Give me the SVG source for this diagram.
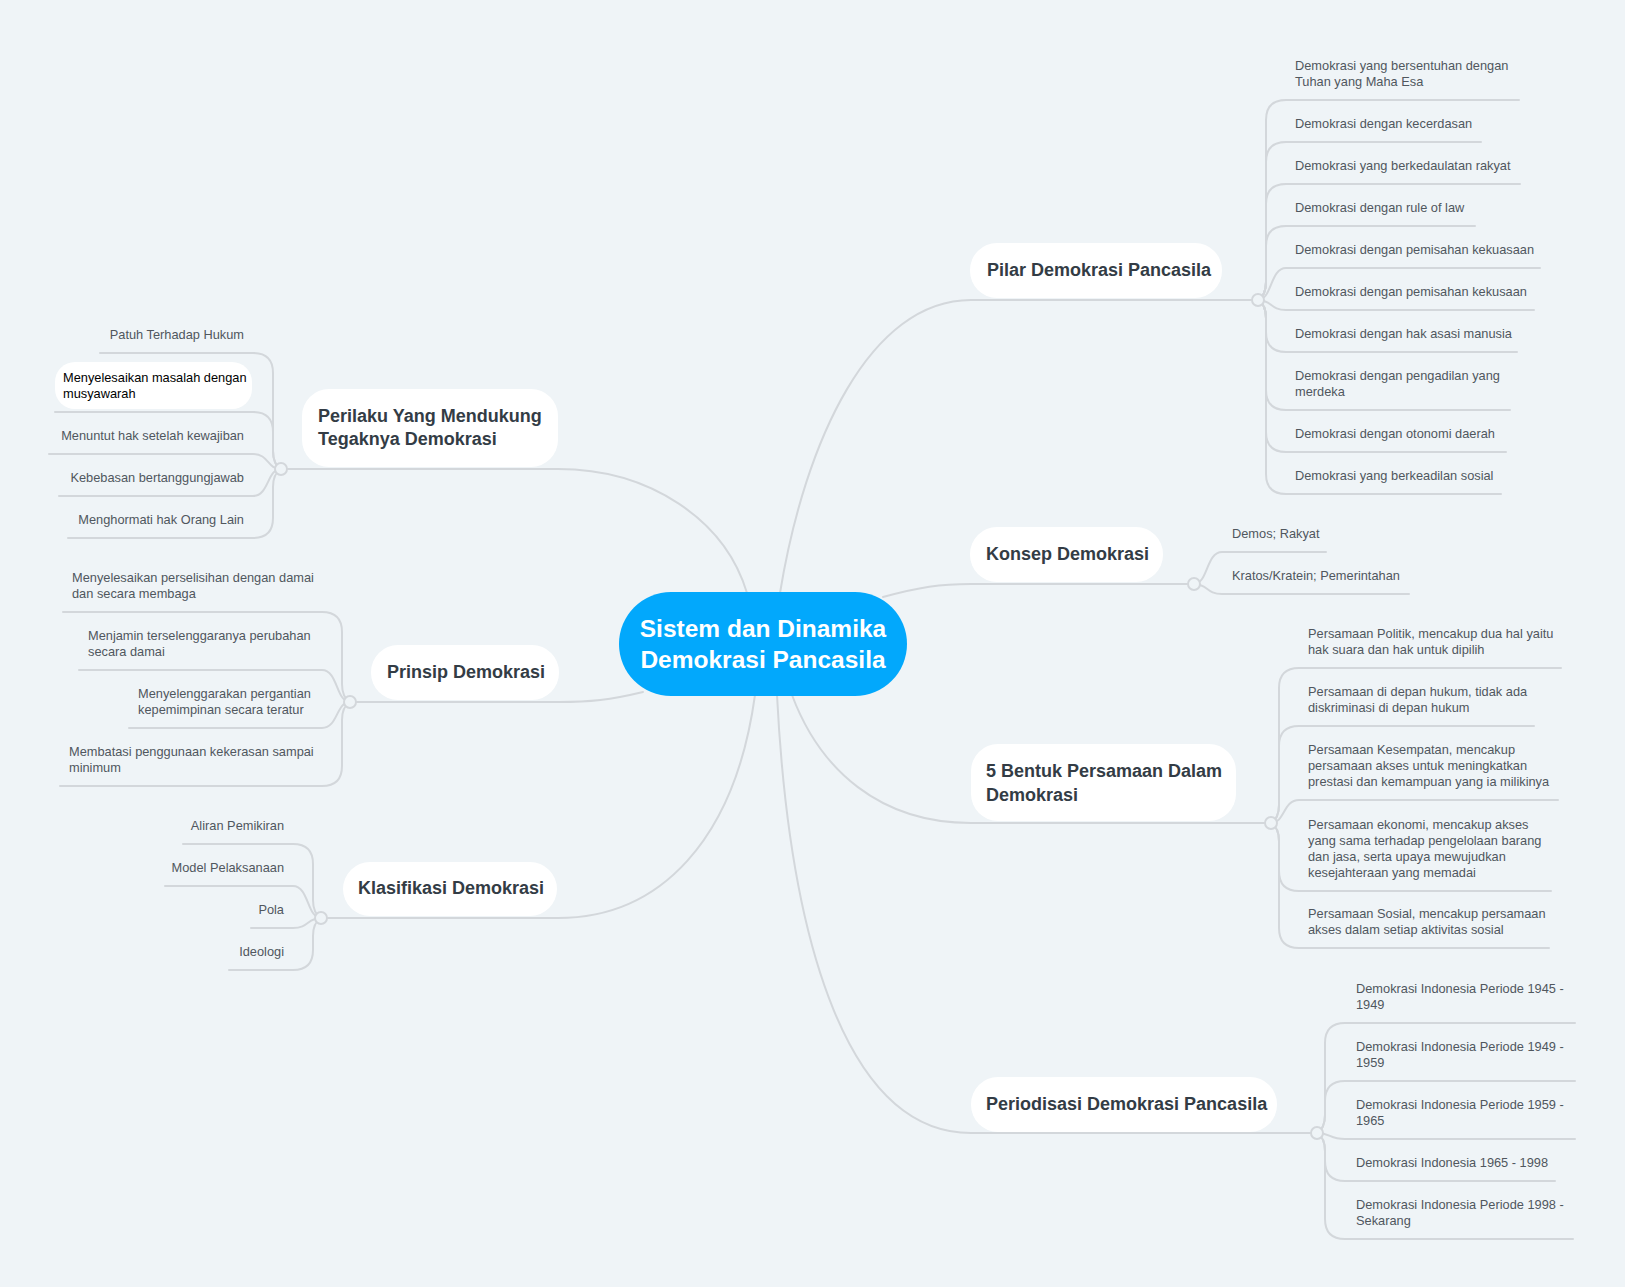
<svg xmlns="http://www.w3.org/2000/svg" width="1625" height="1287" viewBox="0 0 1625 1287">
<style>
.bg{fill:#EFF4F7}
.ln{fill:none;stroke:#D3D7DB;stroke-width:2;stroke-linecap:round}
.jn{fill:#EFF4F7;stroke:#D3D7DB;stroke-width:2}
.node{fill:#FFFFFF}
.nt{font-family:"Liberation Sans",Arial,sans-serif;font-weight:bold;font-size:18px;fill:#333C45}
.ct{font-family:"Liberation Sans",Arial,sans-serif;font-size:12.8px;fill:#50575E}
.ctr{text-anchor:end}
.hl{fill:#000000}
.cen{fill:#02A8FC}
.cent{font-family:"Liberation Sans",Arial,sans-serif;font-weight:bold;font-size:24.5px;fill:#FFFFFF;text-anchor:middle}
</style>
<rect class="bg" x="0" y="0" width="1625" height="1287"/>
<g id="connectors">
<path class="ln" d="M780,593 C805,440 870,300 971,300 L1258,300"/>
<path class="ln" d="M883,597 C920,587 940,584 971,584 L1194,584"/>
<path class="ln" d="M792,695 C820,770 880,823 971,823 L1271,823"/>
<path class="ln" d="M777,695 C790,950 850,1133 971,1133 L1317,1133"/>
<path class="ln" d="M747,593 C725,520 650,469 558,469 L281,469"/>
<path class="ln" d="M643,692 C610,700 590,702 559,702 L350,702"/>
<path class="ln" d="M755,695 C735,840 660,918 558,918 L321,918"/>
<path class="ln" d="M1258,300 C1263,297 1266,292 1266,282 L1266,120 Q1266,100 1286,100 L1519,100"/>
<path class="ln" d="M1258,300 C1263,297 1266,292 1266,282 L1266,162 Q1266,142 1286,142 L1481,142"/>
<path class="ln" d="M1258,300 C1263,297 1266,292 1266,282 L1266,204 Q1266,184 1286,184 L1520,184"/>
<path class="ln" d="M1258,300 C1263,297 1266,292 1266,282 L1266,246 Q1266,226 1286,226 L1475,226"/>
<path class="ln" d="M1258,300 C1272,300 1270,268 1286,268 L1540,268"/>
<path class="ln" d="M1258,300 C1272,300 1270,310 1286,310 L1534,310"/>
<path class="ln" d="M1258,300 C1263,303 1266,308 1266,318 L1266,332 Q1266,352 1286,352 L1517,352"/>
<path class="ln" d="M1258,300 C1263,303 1266,308 1266,318 L1266,390 Q1266,410 1286,410 L1510,410"/>
<path class="ln" d="M1258,300 C1263,303 1266,308 1266,318 L1266,432 Q1266,452 1286,452 L1506,452"/>
<path class="ln" d="M1258,300 C1263,303 1266,308 1266,318 L1266,474 Q1266,494 1286,494 L1501,494"/>
<path class="ln" d="M1194,584 C1208,584 1206,552 1222,552 L1326,552"/>
<path class="ln" d="M1194,584 C1208,584 1206,594 1222,594 L1409,594"/>
<path class="ln" d="M1271,823 C1276,820 1279,815 1279,805 L1279,688 Q1279,668 1299,668 L1561,668"/>
<path class="ln" d="M1271,823 C1276,820 1279,815 1279,805 L1279,746 Q1279,726 1299,726 L1534,726"/>
<path class="ln" d="M1271,823 C1285,823 1283,800 1299,800 L1558,800"/>
<path class="ln" d="M1271,823 C1276,826 1279,831 1279,841 L1279,871 Q1279,891 1299,891 L1551,891"/>
<path class="ln" d="M1271,823 C1276,826 1279,831 1279,841 L1279,928 Q1279,948 1299,948 L1549,948"/>
<path class="ln" d="M1317,1133 C1322,1130 1325,1125 1325,1115 L1325,1043 Q1325,1023 1345,1023 L1575,1023"/>
<path class="ln" d="M1317,1133 C1322,1130 1325,1125 1325,1115 L1325,1101 Q1325,1081 1345,1081 L1575,1081"/>
<path class="ln" d="M1317,1133 C1331,1133 1329,1139 1345,1139 L1575,1139"/>
<path class="ln" d="M1317,1133 C1322,1136 1325,1141 1325,1151 L1325,1161 Q1325,1181 1345,1181 L1555,1181"/>
<path class="ln" d="M1317,1133 C1322,1136 1325,1141 1325,1151 L1325,1219 Q1325,1239 1345,1239 L1573,1239"/>
<path class="ln" d="M281,469 C276,466 273,461 273,451 L273,373 Q273,353 253,353 L100,353"/>
<path class="ln" d="M281,469 C276,466 273,461 273,451 L273,432 Q273,412 253,412 L55,412"/>
<path class="ln" d="M281,469 C267,469 269,454 253,454 L49,454"/>
<path class="ln" d="M281,469 C267,469 269,496 253,496 L59,496"/>
<path class="ln" d="M281,469 C276,472 273,477 273,487 L273,518 Q273,538 253,538 L68,538"/>
<path class="ln" d="M350,702 C345,699 342,694 342,684 L342,632 Q342,612 322,612 L63,612"/>
<path class="ln" d="M350,702 C336,702 338,670 322,670 L79,670"/>
<path class="ln" d="M350,702 C336,702 338,728 322,728 L129,728"/>
<path class="ln" d="M350,702 C345,705 342,710 342,720 L342,766 Q342,786 322,786 L60,786"/>
<path class="ln" d="M321,918 C316,915 313,910 313,900 L313,864 Q313,844 293,844 L183,844"/>
<path class="ln" d="M321,918 C307,918 309,886 293,886 L165,886"/>
<path class="ln" d="M321,918 C307,918 309,928 293,928 L251,928"/>
<path class="ln" d="M321,918 C316,921 313,926 313,936 L313,950 Q313,970 293,970 L229,970"/>
<circle class="jn" cx="1258" cy="300" r="6"/>
<circle class="jn" cx="1194" cy="584" r="6"/>
<circle class="jn" cx="1271" cy="823" r="6"/>
<circle class="jn" cx="1317" cy="1133" r="6"/>
<circle class="jn" cx="281" cy="469" r="6"/>
<circle class="jn" cx="350" cy="702" r="6"/>
<circle class="jn" cx="321" cy="918" r="6"/>
</g>
<g id="central">
<rect class="cen" x="619" y="592" width="288" height="104" rx="52"/>
<text class="cent" x="763" y="637">Sistem dan Dinamika</text>
<text class="cent" x="763" y="668">Demokrasi Pancasila</text>
</g>
<g id="pilar">
<rect class="node" x="970" y="243" width="252" height="55" rx="27"/>
<text class="nt" x="987" y="276">Pilar Demokrasi Pancasila</text>
</g>
<g id="pilar-children">
<text class="ct" x="1295" y="69.5">Demokrasi yang bersentuhan dengan</text>
<text class="ct" x="1295" y="85.5">Tuhan yang Maha Esa</text>
<text class="ct" x="1295" y="127.5">Demokrasi dengan kecerdasan</text>
<text class="ct" x="1295" y="169.5">Demokrasi yang berkedaulatan rakyat</text>
<text class="ct" x="1295" y="211.5">Demokrasi dengan rule of law</text>
<text class="ct" x="1295" y="253.5">Demokrasi dengan pemisahan kekuasaan</text>
<text class="ct" x="1295" y="295.5">Demokrasi dengan pemisahan kekusaan</text>
<text class="ct" x="1295" y="337.5">Demokrasi dengan hak asasi manusia</text>
<text class="ct" x="1295" y="379.5">Demokrasi dengan pengadilan yang</text>
<text class="ct" x="1295" y="395.5">merdeka</text>
<text class="ct" x="1295" y="437.5">Demokrasi dengan otonomi daerah</text>
<text class="ct" x="1295" y="479.5">Demokrasi yang berkeadilan sosial</text>
</g>
<g id="konsep">
<rect class="node" x="970" y="527" width="193" height="55" rx="27"/>
<text class="nt" x="986" y="560">Konsep Demokrasi</text>
</g>
<g id="konsep-children">
<text class="ct" x="1232" y="537.5">Demos; Rakyat</text>
<text class="ct" x="1232" y="579.5">Kratos/Kratein; Pemerintahan</text>
</g>
<g id="bentuk">
<rect class="node" x="971" y="744" width="265" height="77" rx="27"/>
<text class="nt" x="986" y="777">5 Bentuk Persamaan Dalam</text>
<text class="nt" x="986" y="801">Demokrasi</text>
</g>
<g id="bentuk-children">
<text class="ct" x="1308" y="637.5">Persamaan Politik, mencakup dua hal yaitu</text>
<text class="ct" x="1308" y="653.5">hak suara dan hak untuk dipilih</text>
<text class="ct" x="1308" y="695.5">Persamaan di depan hukum, tidak ada</text>
<text class="ct" x="1308" y="711.5">diskriminasi di depan hukum</text>
<text class="ct" x="1308" y="753.5">Persamaan Kesempatan, mencakup</text>
<text class="ct" x="1308" y="769.5">persamaan akses untuk meningkatkan</text>
<text class="ct" x="1308" y="785.5">prestasi dan kemampuan yang ia milikinya</text>
<text class="ct" x="1308" y="828.5">Persamaan ekonomi, mencakup akses</text>
<text class="ct" x="1308" y="844.5">yang sama terhadap pengelolaan barang</text>
<text class="ct" x="1308" y="860.5">dan jasa, serta upaya mewujudkan</text>
<text class="ct" x="1308" y="876.5">kesejahteraan yang memadai</text>
<text class="ct" x="1308" y="917.5">Persamaan Sosial, mencakup persamaan</text>
<text class="ct" x="1308" y="933.5">akses dalam setiap aktivitas sosial</text>
</g>
<g id="periodisasi">
<rect class="node" x="971" y="1077" width="306" height="55" rx="27"/>
<text class="nt" x="986" y="1110">Periodisasi Demokrasi Pancasila</text>
</g>
<g id="periodisasi-children">
<text class="ct" x="1356" y="992.5">Demokrasi Indonesia Periode 1945 -</text>
<text class="ct" x="1356" y="1008.5">1949</text>
<text class="ct" x="1356" y="1050.5">Demokrasi Indonesia Periode 1949 -</text>
<text class="ct" x="1356" y="1066.5">1959</text>
<text class="ct" x="1356" y="1108.5">Demokrasi Indonesia Periode 1959 -</text>
<text class="ct" x="1356" y="1124.5">1965</text>
<text class="ct" x="1356" y="1166.5">Demokrasi Indonesia 1965 - 1998</text>
<text class="ct" x="1356" y="1208.5">Demokrasi Indonesia Periode 1998 -</text>
<text class="ct" x="1356" y="1224.5">Sekarang</text>
</g>
<g id="perilaku">
<rect class="node" x="302" y="389" width="256" height="78" rx="27"/>
<text class="nt" x="318" y="422">Perilaku Yang Mendukung</text>
<text class="nt" x="318" y="445">Tegaknya Demokrasi</text>
</g>
<g id="perilaku-children">
<text class="ct ctr" x="244" y="338.5">Patuh Terhadap Hukum</text>
<rect class="node" x="55" y="362" width="197" height="47" rx="20"/>
<text class="ct hl" x="63" y="381.5">Menyelesaikan masalah dengan</text>
<text class="ct hl" x="63" y="397.5">musyawarah</text>
<text class="ct ctr" x="244" y="439.5">Menuntut hak setelah kewajiban</text>
<text class="ct ctr" x="244" y="481.5">Kebebasan bertanggungjawab</text>
<text class="ct ctr" x="244" y="523.5">Menghormati hak Orang Lain</text>
</g>
<g id="prinsip">
<rect class="node" x="371" y="645" width="188" height="55" rx="27"/>
<text class="nt" x="387" y="678">Prinsip Demokrasi</text>
</g>
<g id="prinsip-children">
<text class="ct" x="72" y="581.5">Menyelesaikan perselisihan dengan damai</text>
<text class="ct" x="72" y="597.5">dan secara membaga</text>
<text class="ct" x="88" y="639.5">Menjamin terselenggaranya perubahan</text>
<text class="ct" x="88" y="655.5">secara damai</text>
<text class="ct" x="138" y="697.5">Menyelenggarakan pergantian</text>
<text class="ct" x="138" y="713.5">kepemimpinan secara teratur</text>
<text class="ct" x="69" y="755.5">Membatasi penggunaan kekerasan sampai</text>
<text class="ct" x="69" y="771.5">minimum</text>
</g>
<g id="klasifikasi">
<rect class="node" x="343" y="862" width="214" height="54" rx="27"/>
<text class="nt" x="358" y="894">Klasifikasi Demokrasi</text>
</g>
<g id="klasifikasi-children">
<text class="ct ctr" x="284" y="829.5">Aliran Pemikiran</text>
<text class="ct ctr" x="284" y="871.5">Model Pelaksanaan</text>
<text class="ct ctr" x="284" y="913.5">Pola</text>
<text class="ct ctr" x="284" y="955.5">Ideologi</text>
</g>
</svg>
